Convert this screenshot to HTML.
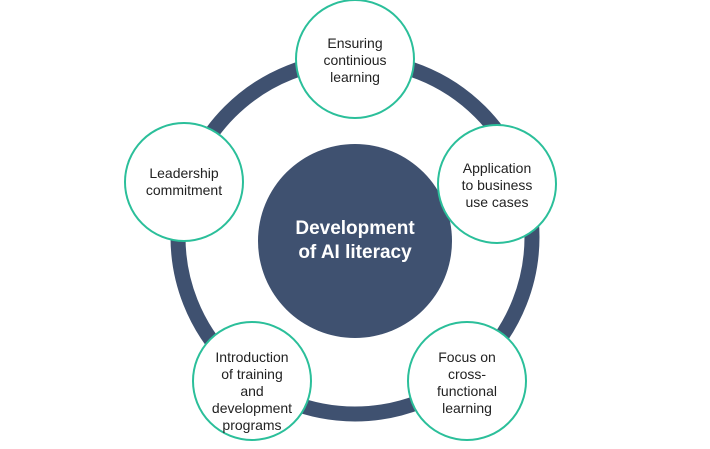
<!DOCTYPE html>
<html><head><style>
body{margin:0;background:#fff;}
text{font-family:"Liberation Sans",sans-serif;}
</style></head><body>
<svg width="710" height="444" viewBox="0 0 710 444" xmlns="http://www.w3.org/2000/svg">
<circle cx="355" cy="237" r="177" fill="none" stroke="#3f5170" stroke-width="15"/>
<circle cx="355" cy="241" r="97" fill="#3f5170"/>
<text x="355" y="234" text-anchor="middle" fill="#fff" font-size="19" font-weight="bold">Development</text>
<text x="355" y="258" text-anchor="middle" fill="#fff" font-size="19" font-weight="bold">of AI literacy</text>
<g fill="#fff" stroke="#2bbf9a" stroke-width="2">
<circle cx="355" cy="59" r="59"/>
<circle cx="497" cy="184" r="59"/>
<circle cx="467" cy="381" r="59"/>
<circle cx="252" cy="381" r="59"/>
<circle cx="184" cy="182" r="59"/>
</g>
<g font-size="14" fill="#222" text-anchor="middle">
<text x="355" y="48">Ensuring</text><text x="355" y="65">continious</text><text x="355" y="82">learning</text>
<text x="497" y="173">Application</text><text x="497" y="190">to business</text><text x="497" y="207">use cases</text>
<text x="467" y="362">Focus on</text><text x="467" y="379">cross-</text><text x="467" y="396">functional</text><text x="467" y="413">learning</text>
<text x="252" y="362">Introduction</text><text x="252" y="379">of training</text><text x="252" y="396">and</text><text x="252" y="413">development</text><text x="252" y="430">programs</text>
<text x="184" y="178">Leadership</text><text x="184" y="195">commitment</text>
</g>
</svg>
</body></html>
